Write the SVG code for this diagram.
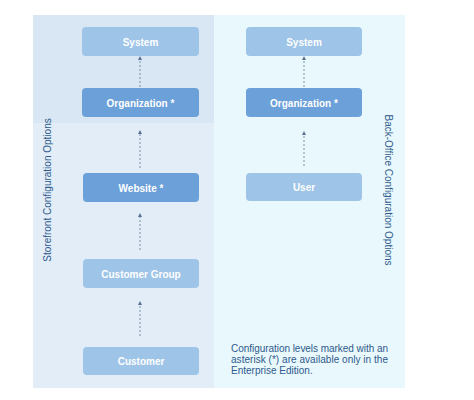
<svg xmlns="http://www.w3.org/2000/svg" width="474" height="400" viewBox="0 0 474 400">
<style>
.box text{font-family:"Liberation Sans",Arial,sans-serif;font-size:10px;font-weight:bold;fill:#ffffff;text-anchor:middle}
.light{fill:#9ec4e7}
.dark{fill:#6ba0d9}
.lbl{font-family:"Liberation Sans",Arial,sans-serif;font-size:10px;fill:#2e5a8c;text-anchor:middle}
.note{font-family:"Liberation Sans",Arial,sans-serif;font-size:10px;fill:#2e5a8c}
.conn line{stroke:#7a8fa6;stroke-width:1;stroke-dasharray:2,2;fill:none}
</style>
<defs>
<marker id="ah" viewBox="0 0 6 6" refX="3" refY="3" markerWidth="4" markerHeight="4" orient="auto-start-reverse">
<path d="M0,0 L6,3 L0,6 z" fill="#5a7090"/>
</marker>
</defs>
<rect width="474" height="400" fill="#ffffff"/>
<g id="panel-storefront">
<rect x="33" y="15" width="181" height="373" fill="#e2edf8"/>
<rect x="33" y="15" width="181" height="108" fill="#d9e7f4"/>
<text class="lbl" transform="translate(51,190) rotate(-90)">Storefront Configuration Options</text>
</g>
<g id="panel-backoffice">
<rect x="214" y="15" width="191" height="373" fill="#e9f8fc"/>
<text class="lbl" transform="translate(385,190) rotate(90)">Back-Office Configuration Options</text>
</g>
<g class="conn" id="connectors">
<line x1="140" y1="87" x2="140" y2="58" marker-end="url(#ah)"/>
<line x1="140" y1="168" x2="140" y2="132" marker-end="url(#ah)"/>
<line x1="140" y1="250" x2="140" y2="215" marker-end="url(#ah)"/>
<line x1="140" y1="336" x2="140" y2="303" marker-end="url(#ah)"/>
<line x1="304" y1="87" x2="304" y2="58" marker-end="url(#ah)"/>
<line x1="304" y1="166" x2="304" y2="133" marker-end="url(#ah)"/>
</g>
<g class="box" id="sf-system"><rect class="light" x="82" y="27" width="117" height="29" rx="4"/><text x="140.5" y="45.5">System</text></g>
<g class="box" id="sf-organization"><rect class="dark" x="82" y="88" width="117" height="29" rx="4"/><text x="140.5" y="106.5">Organization *</text></g>
<g class="box" id="sf-website"><rect class="dark" x="83" y="173" width="116" height="29" rx="4"/><text x="141" y="191.5">Website *</text></g>
<g class="box" id="sf-customer-group"><rect class="light" x="83" y="259" width="116" height="29" rx="4"/><text x="141" y="277.5">Customer Group</text></g>
<g class="box" id="sf-customer"><rect class="light" x="83" y="347" width="116" height="28" rx="4"/><text x="141" y="365">Customer</text></g>
<g class="box" id="bo-system"><rect class="light" x="246" y="27" width="116" height="29" rx="4"/><text x="304" y="45.5">System</text></g>
<g class="box" id="bo-organization"><rect class="dark" x="246" y="88" width="116" height="29" rx="4"/><text x="304" y="106.5">Organization *</text></g>
<g class="box" id="bo-user"><rect class="light" x="246" y="173" width="116" height="28" rx="4"/><text x="304" y="191">User</text></g>
<g id="footnote">
<text class="note" x="231" y="352" textLength="157" lengthAdjust="spacing">Configuration levels marked with an</text>
<text class="note" x="231" y="363" textLength="157" lengthAdjust="spacing">asterisk (*) are available only in the</text>
<text class="note" x="231" y="374">Enterprise Edition.</text>
</g>
</svg>
